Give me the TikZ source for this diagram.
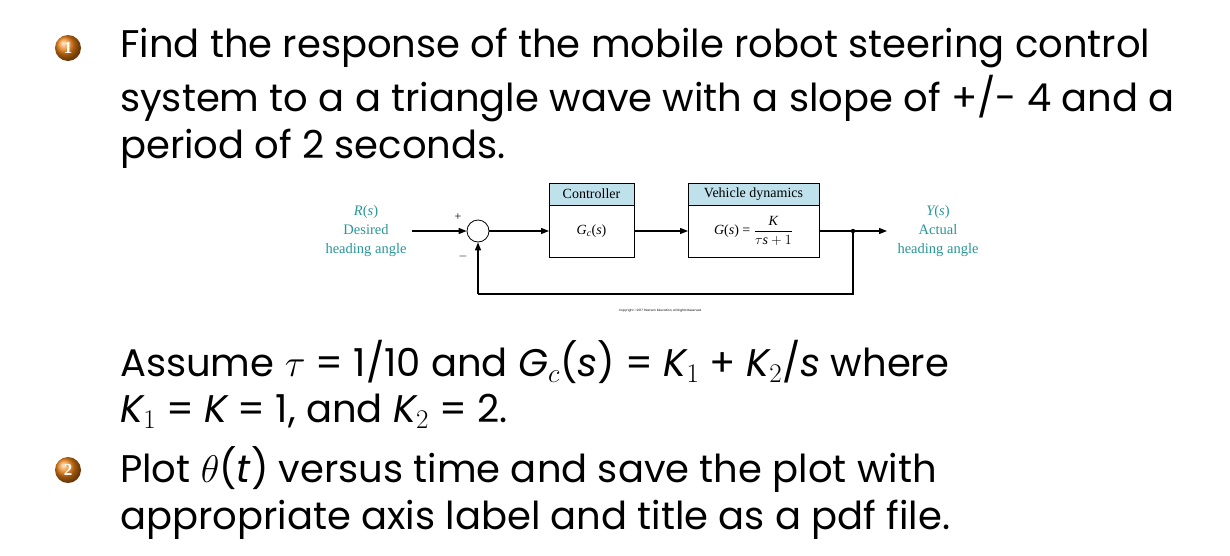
\RequirePackage{fix-cm}
\documentclass[tikz,border=0pt]{standalone}
\usepackage{amsmath}
\usepackage{fontspec}
\setmainfont{Poppins}
\newfontfamily\dia{Liberation Serif}
\usetikzlibrary{arrows.meta}
\definecolor{teal1}{RGB}{40,150,150}
\definecolor{hdr}{RGB}{190,225,235}
\tikzset{
 big/.style={anchor=west,inner sep=0pt,font=\fontsize{38.5}{46}\selectfont},
 bul/.style={circle,inner sep=0pt,minimum size=26pt,ball color={orange!70!brown},text=white,font=\dia\bfseries\fontsize{17}{17}\selectfont},
 dlab/.style={font=\dia\fontsize{14.5}{19}\selectfont,text=teal1,align=center},
 dtx/.style={font=\dia\fontsize{14}{16}\selectfont},
 blk/.style={draw,line width=0.8pt},
 arr/.style={line width=1.2pt,-{Triangle[length=8pt,width=6pt]}},
 ln/.style={line width=1.2pt}
}
\begin{document}
\begin{tikzpicture}[x=1pt,y=-1pt]
\useasboundingbox (0,0) rectangle (1230,555);
\node[bul] (b1) at (68,48) {1};
\node[big] (l1) at (120,48) {Find the response of the mobile robot steering control};
\node[big] (l2) at (120,99) {system to a a triangle wave with a slope of +/- 4 and a};
\node[big] (l3) at (120,149) {period of 2 seconds.};
% diagram
\draw[blk,fill=hdr] (549,183) rectangle (634,205);
\draw[blk] (549,205) rectangle (634,257);
\node[dtx] (ch) at (591.5,194) {Controller};
\node[dtx] (c) at (591.5,231) {\itshape G\textsubscript{c}\upshape(\itshape s\upshape)};
\draw[blk,fill=hdr] (688,183) rectangle (819,205);
\draw[blk] (688,205) rectangle (819,257);
\node[dtx] (vh) at (753.5,194) {Vehicle dynamics};
\node[dtx] (v) at (753.5,231) {\itshape G\upshape(\itshape s\upshape) = $\dfrac{\textit{K}}{\tau\textit{s}+1}$};
\coordinate (cw) at (549,231); \coordinate (ce) at (634,231);
\coordinate (vw) at (688,231); \coordinate (ve) at (819,231);
\node[draw,circle,minimum size=22pt,inner sep=0pt,line width=0.8pt] (sum) at (478,231) {};
\node[dlab] (r) at (366,231) {\itshape R\upshape(\itshape s\upshape)\\Desired\\heading angle};
\node[dlab] (y) at (938,231) {\itshape Y\upshape(\itshape s\upshape)\\Actual\\heading angle};
\coordinate (in) at (412,231);
\coordinate (out) at (887,231);
\coordinate (j) at (853,231);
\coordinate (fb1) at (853,294);
\coordinate (fb2) at (478,294);
\draw[arr] (in) -- (sum.west);
\draw[arr] (sum.east) -- (cw);
\draw[arr] (ce) -- (vw);
\draw[arr] (ve) -- (out);
\draw[ln] (j) -- (fb1) -- (fb2);
\draw[arr] (fb2) -- (sum.south);
\fill (j) circle (2.2pt);
\node[font=\dia\fontsize{12}{12}\selectfont] (p) at (458,217) {+};
\node[font=\dia\fontsize{12}{12}\selectfont] (m) at (463,256) {$-$};
\node[font=\fontsize{3}{3}\selectfont] (cp) at (660,311) {Copyright \copyright2017 Pearson Education, All Rights Reserved};
% bottom text
\node[big] (l4) at (120,362) {Assume $\tau$ = 1/10 and {\itshape G}$_{c}$({\itshape s}) = {\itshape K}$_1$ + {\itshape K}$_2$/{\itshape s} where};
\node[big] (l5) at (120,411) {{\itshape K}$_1$ = {\itshape K} = 1, and {\itshape K}$_2$ = 2.};
\node[bul] (b2) at (68,470) {2};
\node[big] (l6) at (120,470) {Plot $\theta$({\itshape t}) versus time and save the plot with};
\node[big] (l7) at (120,520) {appropriate axis label and title as a pdf file.};
\end{tikzpicture}
\end{document}
